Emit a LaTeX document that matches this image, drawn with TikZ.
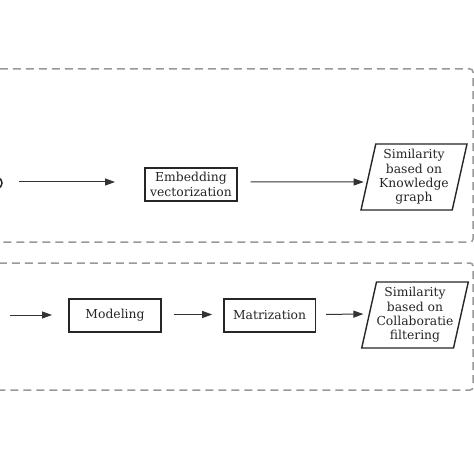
\documentclass[tikz,border=0pt]{standalone}
\usepackage{fontspec}
\setmainfont{DejaVu Serif}
\usetikzlibrary{shapes.geometric,arrows.meta}
\begin{document}
\begin{tikzpicture}[x=1bp,y=-1bp,
  every node/.style={font=\fontsize{12.4}{14.4}\selectfont, text=black!85, align=center, inner sep=0pt},
  procbox/.style={draw=black!85, line width=1.4bp, minimum width=92bp, minimum height=33bp},
  para/.style={draw=black!85, line width=1.4bp, trapezium, trapezium left angle=75, trapezium right angle=105, trapezium stretches body, minimum width=106bp, minimum height=66bp},
  flow/.style={draw=black!80, line width=1bp, -{Triangle[length=10bp,width=7bp]}},
  group/.style={draw=black!40, line width=1.5bp, dash pattern=on 8bp off 5bp, rounded corners=3bp}
]
\useasboundingbox (0,0) rectangle (474,474);
\fill[white] (0,0) rectangle (474,474);
% dashed group boxes
\draw[group] (-10,69) rectangle (473,242);
\draw[group] (-10,263) rectangle (473,390);
% partial shape at left edge
\draw[black!85, line width=1.5bp] (-8,183) ellipse [x radius=10bp, y radius=7bp];
% top row
\coordinate (t0) at (19,182);
\coordinate (t1) at (115,182);
\node[procbox] (emb) at (191,184.5) {Embedding\\vectorization};
\node[para] (kg) at (414,177) {Similarity\\based on\\Knowledge\\graph};
\draw[flow] (t0) -- (t1);
\draw[flow, shorten <=13bp, shorten >=4bp] ([yshift=2.5bp]emb.east) -- (kg.west |- t0);
% bottom row
\coordinate (b0) at (10,315);
\coordinate (b1) at (52,315);
\node[procbox] (mod) at (115,315.5) {Modeling};
\node[procbox, minimum width=91.4bp] (mat) at (269.6,315.5) {Matrization};
\node[para] (cf) at (415,315) {Similarity\\based on\\Collaboratie\\filtering};
\draw[flow] (b0) -- (b1);
\draw[flow, shorten <=12bp, shorten >=11bp] ([yshift=1bp]mod.east) -- ([yshift=1bp]mat.west);
\draw[flow, shorten <=10bp, shorten >=5bp] ([yshift=1bp]mat.east) -- ([yshift=1bp]cf.west);
\end{tikzpicture}
\end{document}
